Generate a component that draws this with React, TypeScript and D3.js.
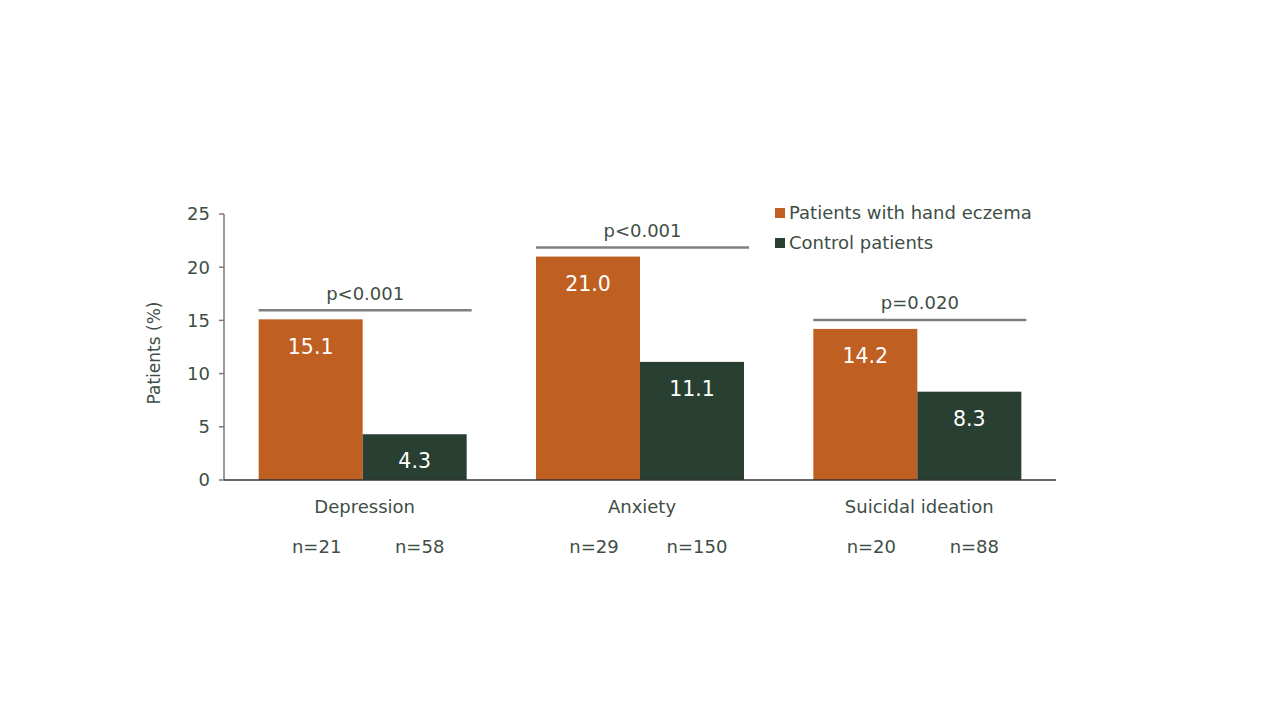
import React from "react";
import * as d3 from "d3";

const categories = ["Depression", "Anxiety", "Suicidal ideation"];
const seriesNames = ["Patients with hand eczema", "Control patients"];
const eczemaValues = [15.1, 21.0, 14.2];
const controlValues = [4.3, 11.1, 8.3];
const eczemaN = ["n=21", "n=29", "n=20"];
const controlN = ["n=58", "n=150", "n=88"];
const pValues = ["p<0.001", "p<0.001", "p=0.020"];
const yTicks = [0, 5, 10, 15, 20, 25];

const ORANGE = "#C05F22";
const GREEN = "#283F31";
const TEXT = "#3E4E45";
const FONT = "'DejaVu Sans', sans-serif";
const FS = 18;

export default function App() {
  const left = 224, right = 1056, top = 214, bottom = 480;
  const x = d3.scaleBand<string>().domain(categories).range([left, right]).paddingInner(0.25).paddingOuter(0.125);
  const x1 = d3.scaleBand<string>().domain(seriesNames).range([0, x.bandwidth()]).padding(0);
  const y = d3.scaleLinear().domain([0, 25]).range([bottom, top]);
  const series = [eczemaValues, controlValues];
  const colors = [ORANGE, GREEN];
  const nLabels = [eczemaN, controlN];

  return (
    <svg width={1280} height={720} style={{ display: "block", position: "absolute", left: 0, top: 0, background: "#fff" }} fontFamily={FONT}>
      {/* y axis */}
      <line x1={left} x2={left} y1={top} y2={bottom} stroke="#7a7a7a" strokeWidth={1.5} />
      {yTicks.map((t) => (
        <g key={t}>
          <line x1={left - 5} x2={left} y1={y(t)} y2={y(t)} stroke="#7a7a7a" strokeWidth={1.5} />
          <text x={left - 14} y={y(t)} dy="0.35em" textAnchor="end" fontSize={FS} fill={TEXT}>{t}</text>
        </g>
      ))}
      <text transform={`translate(160,${(top + bottom) / 2 + 6}) rotate(-90)`} textAnchor="middle" fontSize={FS - 1} fill={TEXT}>Patients (%)</text>

      {/* bars */}
      {categories.map((c, i) => (
        <g key={c}>
          {series.map((vals, s) => {
            const bx = (x(c) as number) + (x1(seriesNames[s]) as number);
            const bw = x1.bandwidth();
            return (
              <g key={s}>
                <rect x={bx} y={y(vals[i])} width={bw} height={bottom - y(vals[i])} fill={colors[s]} />
                <text x={bx + bw / 2} y={y(vals[i]) + 27} dy="0.35em" textAnchor="middle" fontSize={20.5} fill="#fff">{vals[i].toFixed(1)}</text>
                <text x={bx + bw / 2 + (s === 0 ? 6 : 5)} y={547} dy="0.35em" textAnchor="middle" fontSize={FS} fill={TEXT}>{nLabels[s][i]}</text>
              </g>
            );
          })}
          {(() => {
            const maxV = Math.max(eczemaValues[i], controlValues[i]);
            const ly = y(maxV) - 9;
            const x0 = x(c) as number;
            const xe = x0 + x.bandwidth() + 5;
            return (
              <g>
                <line x1={x0} x2={xe} y1={ly} y2={ly} stroke="#7f7f7f" strokeWidth={2.5} />
                <text x={(x0 + xe) / 2} y={ly - 17} dy="0.35em" textAnchor="middle" fontSize={FS} fill={TEXT}>{pValues[i]}</text>
              </g>
            );
          })()}
          <text x={(x(c) as number) + x.bandwidth() / 2 + 2} y={507} dy="0.35em" textAnchor="middle" fontSize={FS} fill={TEXT}>{c}</text>
        </g>
      ))}

      {/* x axis */}
      <line x1={left} x2={right} y1={bottom} y2={bottom} stroke="#333" strokeWidth={1.5} />

      {/* legend */}
      {seriesNames.map((n, s) => (
        <g key={n} transform={`translate(775,${213 + s * 30})`}>
          <rect x={0} y={-5} width={10} height={10} fill={colors[s]} />
          <text x={14} y={0} dy="0.35em" fontSize={FS} fill={TEXT}>{n}</text>
        </g>
      ))}
    </svg>
  );
}
